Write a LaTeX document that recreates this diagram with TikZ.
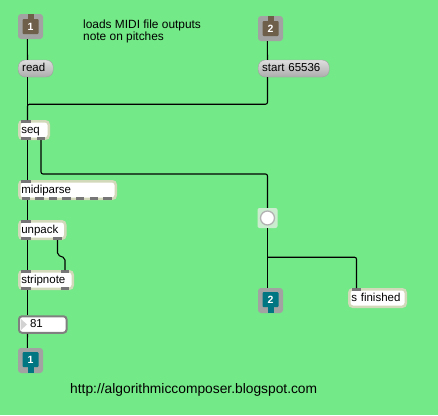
\documentclass[tikz,border=0pt]{standalone}
\usepackage{fontspec}
\setmainfont{Liberation Sans}
\usetikzlibrary{positioning}

\definecolor{patchbg}{RGB}{116,233,135}
\definecolor{portgray}{RGB}{162,162,162}
\definecolor{inbrown}{RGB}{110,95,74}
\definecolor{outteal}{RGB}{0,118,130}
\definecolor{objrim}{RGB}{210,216,186}
\definecolor{tabgray}{RGB}{118,118,118}
\definecolor{msgtop}{RGB}{222,222,222}
\definecolor{msgbot}{RGB}{172,172,172}
\definecolor{msgedge}{RGB}{160,160,160}
\definecolor{numedge}{RGB}{128,128,128}
\definecolor{btnbg}{RGB}{204,236,208}
\definecolor{btnedge}{RGB}{178,178,178}
\newcommand{\boxfont}{\fontsize{11.5}{13}\selectfont}

\begin{document}
\begin{tikzpicture}[x=1pt,y=-1pt,
  cord/.style={line width=1.1pt, rounded corners=2pt},
  port/.style={fill=tabgray},
  maxport/.style={fill=portgray, rounded corners=3pt, minimum size=25pt, inner sep=0pt},
  portnum/.style={minimum width=16pt, minimum height=15pt, inner sep=0pt, rounded corners=1pt,
    text=white, font=\bfseries\fontsize{10.5}{10.5}\selectfont},
  msg/.style={top color=msgtop, bottom color=msgbot, draw=msgedge, line width=.4pt,
    rounded corners=7pt, anchor=west, minimum height=17pt, inner xsep=4pt, inner ysep=0pt,
    text height=8.5pt, text depth=2.5pt, text width=#1, align=left, font=\boxfont},
  maxobj/.style={draw=objrim, fill=white, line width=2.5pt, rounded corners=3.5pt,
    anchor=west, minimum height=17.5pt, inner xsep=2pt, inner ysep=0pt,
    text height=8.5pt, text depth=2.5pt, text width=#1, align=left, font=\boxfont},
  numbox/.style={draw=numedge, fill=white, line width=2pt, rounded corners=3pt,
    anchor=west, minimum height=16.5pt, inner xsep=11pt, inner ysep=0pt,
    text height=8.5pt, text depth=2.5pt, text width=25.5pt, align=left, font=\boxfont}]
  % Patcher background
  \useasboundingbox (0,0) rectangle (438,415);
  \fill[patchbg] (0,0) rectangle (438,415);

  % Inlets
  \node[maxport] (in1) at (30.5,26.5) {};
  \node[portnum, fill=inbrown] (in1n) at (in1) {1};
  \fill[inbrown] ([xshift=-2.5pt]in1n.north) rectangle ([xshift=3.5pt]in1.north);
  \node[maxport] (in2) at (270.5,28.5) {};
  \node[portnum, fill=inbrown] (in2n) at (in2) {2};
  \fill[inbrown] ([xshift=-2.5pt]in2n.north) rectangle ([xshift=3.5pt]in2.north);

  % Comment (base is the last line)
  \node[anchor=base west, align=left, inner sep=0pt, font=\fontsize{11.9}{12}\selectfont]
    (info) at (83,40) {loads MIDI file outputs\\note on pitches};

  % Messages
  \node[msg=27pt] (read) at (18,68.5) {read};
  \node[msg=63pt] (start) at (258,68.5) {start 65536};

  % Objects
  \node[maxobj=25.5pt] (seq) at (18,130) {seq};
  \node[maxobj=92.5pt] (midi) at (18,190) {midiparse};
  \node[maxobj=42pt] (unpack) at (18,230) {unpack};
  \node[maxobj=49.5pt] (strip) at (18,280) {stripnote};
  \node[maxobj=52.5pt] (sfin) at (348,298) {s finished};

  % Object inlets and outlets
  \fill[port] ([xshift=3pt]seq.north west) rectangle +(10,3);
  \fill[port] ([xshift=3pt]seq.south west) rectangle +(10,-3);
  \fill[port] ([xshift=19pt]seq.south west) rectangle +(8,-3);
  \fill[port] ([xshift=3pt]midi.north west) rectangle +(10,3);
  \foreach \i in {0,...,6}
    \fill[port] ([xshift=3.5pt+\i*13.6pt]midi.south west) rectangle +(8.5,-3);
  \fill[port] ([xshift=3pt]unpack.north west) rectangle +(10,3);
  \fill[port] ([xshift=3pt]unpack.south west) rectangle +(10,-3);
  \fill[port] ([xshift=35pt]unpack.south west) rectangle +(9,-3);
  \fill[port] ([xshift=3pt]strip.north west) rectangle +(10,3);
  \fill[port] ([xshift=42.5pt]strip.north west) rectangle +(8.5,3);
  \fill[port] ([xshift=3pt]strip.south west) rectangle +(10,-3);
  \fill[port] ([xshift=42.5pt]strip.south west) rectangle +(8.5,-3);
  \fill[port] ([xshift=4pt]sfin.north west) rectangle +(9,3);

  % Number box
  \node[numbox] (num) at (18,324.5) {81};
  \fill[gray!35] ([xshift=3pt,yshift=5.5pt]num.west) -- ([xshift=9pt]num.west)
    -- ([xshift=3pt,yshift=-5.5pt]num.west) -- cycle;

  % Bang button
  \node[fill=btnbg, rounded corners=2pt, minimum size=20pt, inner sep=0pt] (btn) at (267.5,218) {};
  \node[circle, draw=btnedge, line width=1.3pt, fill=white, minimum size=14pt, inner sep=0pt]
    (btnc) at (btn) {};

  % Outlets
  \node[maxport] (out1) at (30.5,360.5) {};
  \node[portnum, fill=outteal] (out1n) at ([yshift=1pt]out1) {1};
  \fill[outteal] ([xshift=-2.5pt]out1n.south) rectangle ([xshift=3.5pt]out1.south);
  \node[maxport] (out2) at (270.5,300.5) {};
  \node[portnum, fill=outteal] (out2n) at ([yshift=1pt]out2) {2};
  \fill[outteal] ([xshift=-2.5pt]out2n.south) rectangle ([xshift=3.5pt]out2.south);

  % Footer
  \node[anchor=base west, inner sep=0pt, font=\fontsize{13.8}{16}\selectfont]
    (url) at (70,393) {http://algorithmiccomposer.blogspot.com};

  % Patch cords
  \draw[cord] ([xshift=9.5pt]in1.south west) -- ([xshift=9.5pt]read.north west);
  \draw[cord] ([xshift=9.5pt]read.south west) -- ([xshift=9.5pt]seq.north west);
  \draw[cord] ([xshift=9.5pt]in2.south west) -- ([xshift=9.5pt]start.north west);
  \draw[cord] ([xshift=9.5pt]start.south west) -- ++(0,27) -| ([xshift=9.5pt]seq.north west);
  \draw[cord] ([xshift=9.5pt]seq.south west) -- ([xshift=9.5pt]midi.north west);
  \draw[cord] ([xshift=23pt]seq.south west) -- ++(0,34) -| (btn.north);
  \draw[cord] ([xshift=9.5pt]midi.south west) -- ([xshift=9.5pt]unpack.north west);
  \draw[cord] ([xshift=9.5pt]unpack.south west) -- ([xshift=9.5pt]strip.north west);
  \draw[cord] ([xshift=39.5pt]unpack.south west) -- ([xshift=39.5pt,yshift=-15pt]unpack.south west)
    -- ([xshift=47pt,yshift=12pt]strip.north west) -- ([xshift=47pt]strip.north west);
  \draw[cord] ([xshift=9.5pt]strip.south west) -- ([xshift=9.5pt]num.north west);
  \draw[cord] ([xshift=9.5pt]num.south west) -- ([xshift=9.5pt]out1.north west);
  \draw[cord] (btn.south) -- (btn.south |- out2.north);
  \coordinate (fork) at ([yshift=-29pt]btn.south);
  \draw[cord] (fork) -| ([xshift=8.5pt]sfin.north west);
\end{tikzpicture}
\end{document}
